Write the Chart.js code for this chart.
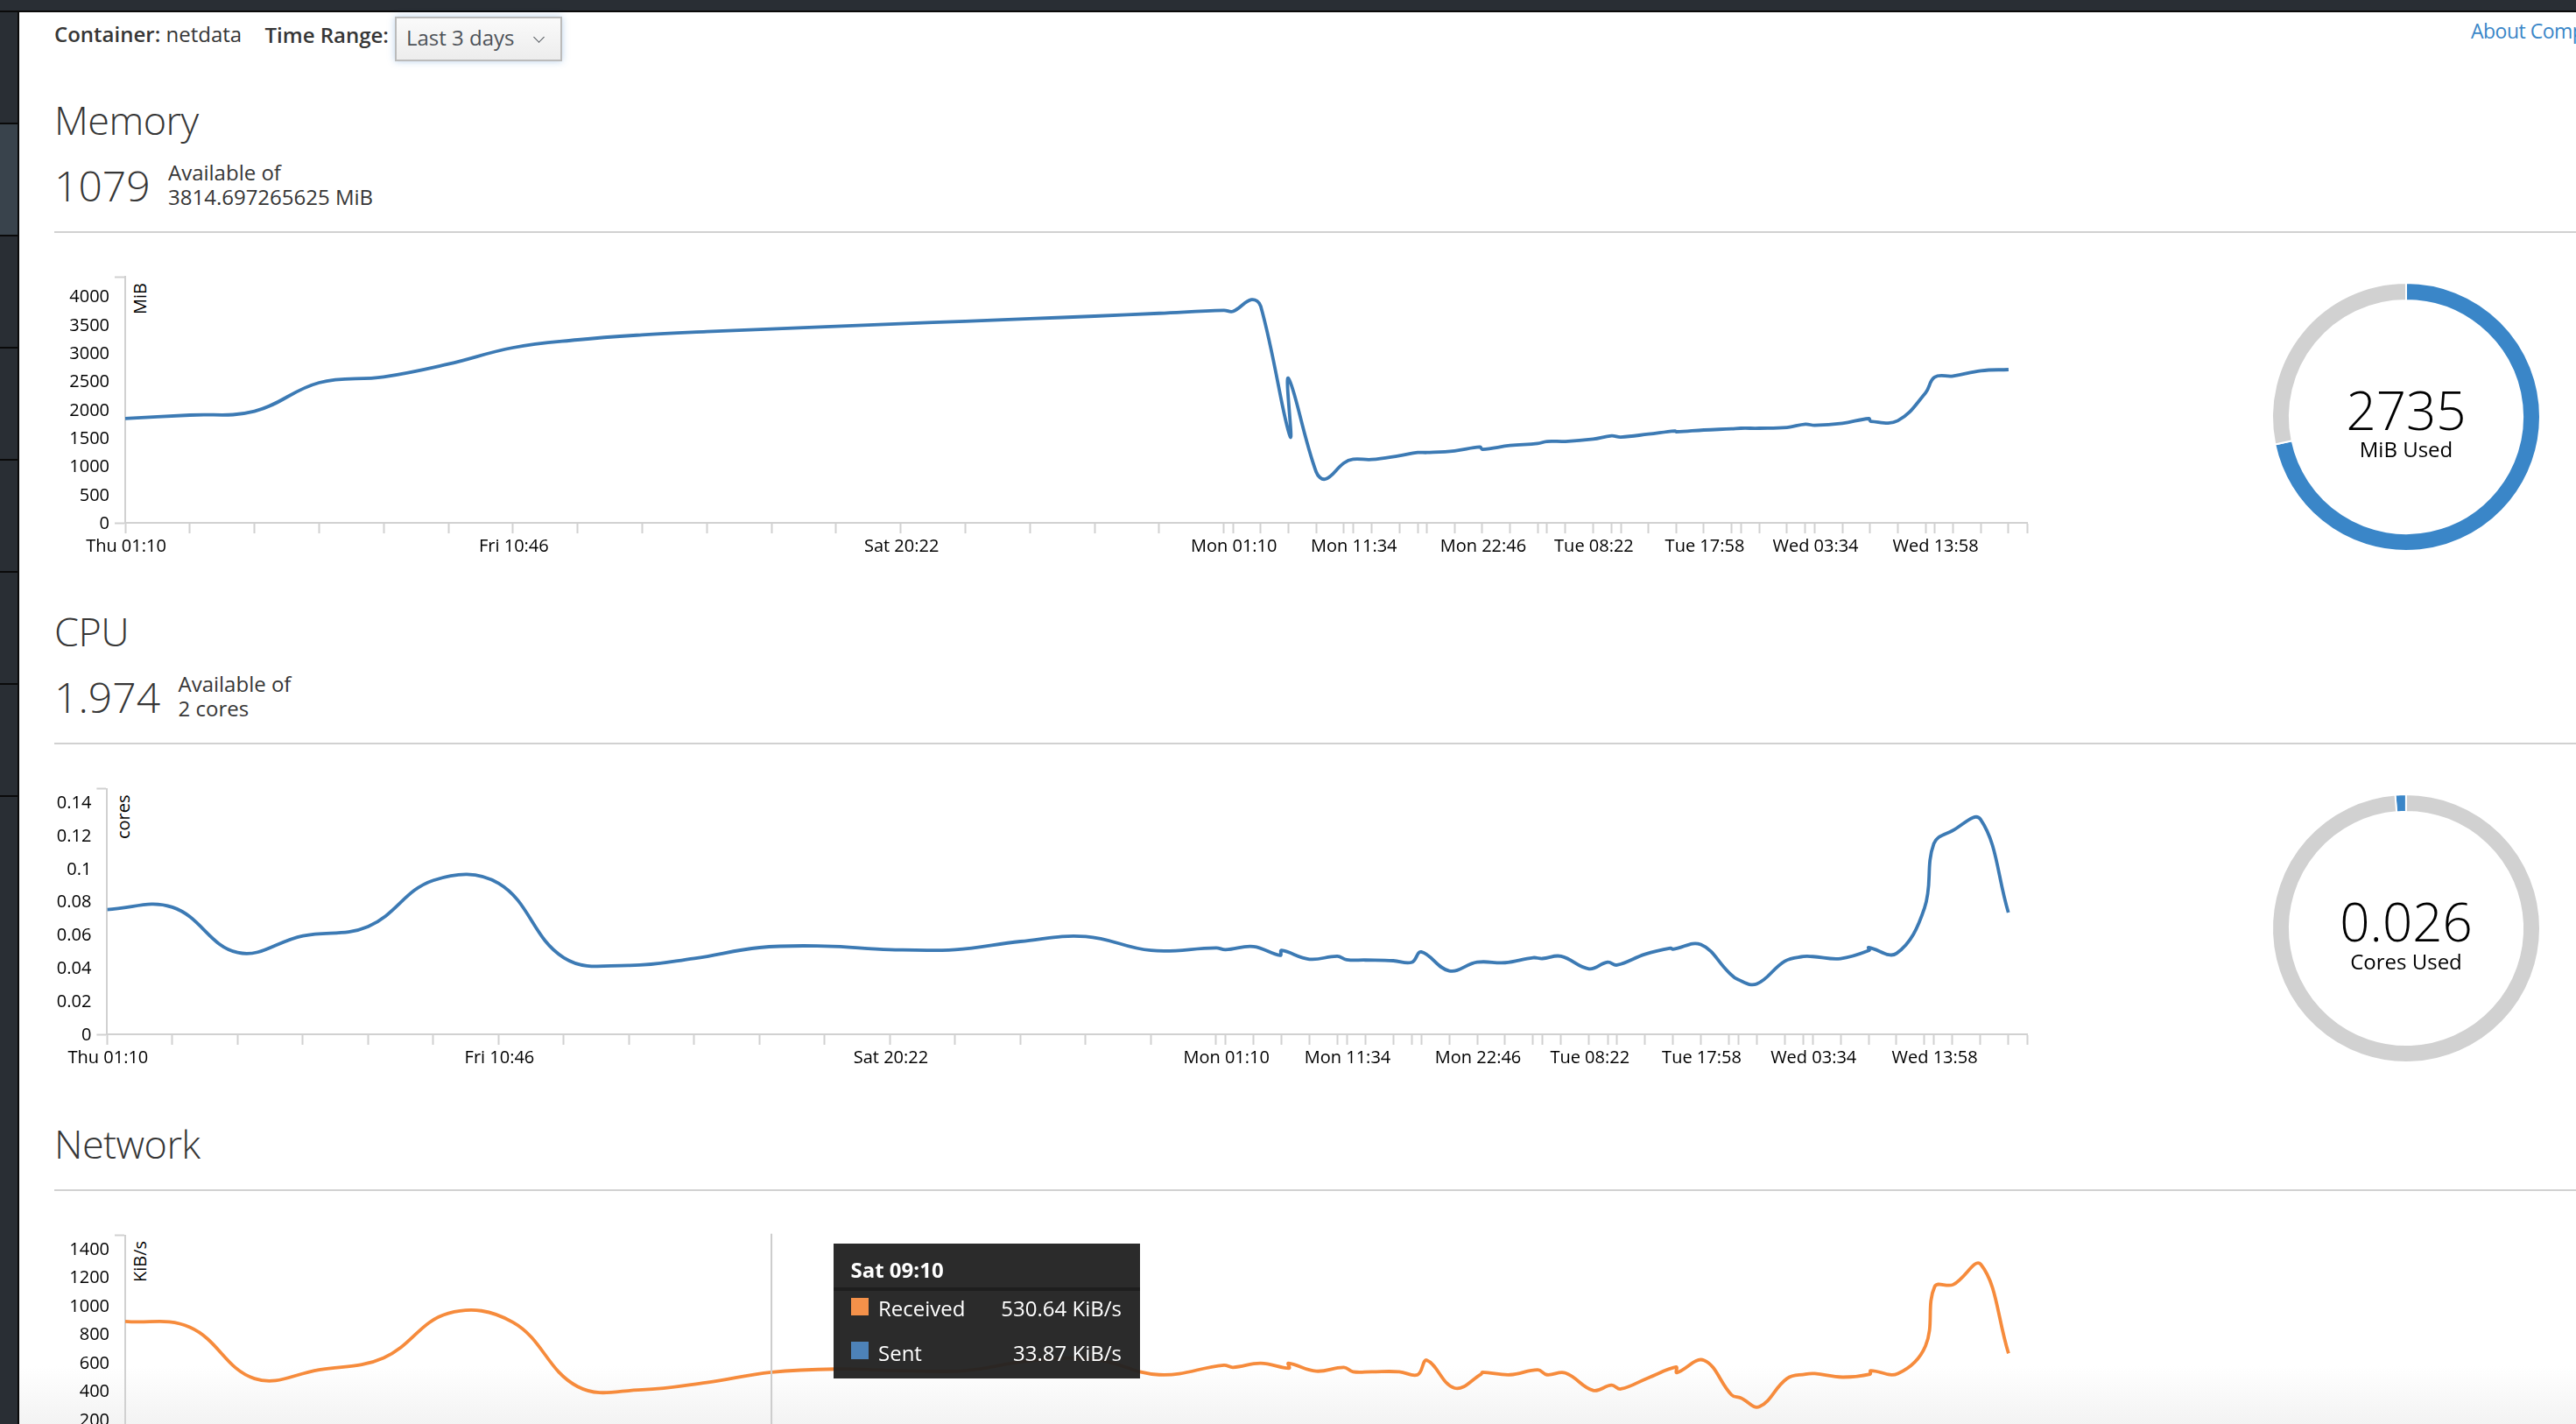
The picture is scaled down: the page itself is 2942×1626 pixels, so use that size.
<!DOCTYPE html>
<html>
<head>
<meta charset="utf-8">
<script src="https://cdn.jsdelivr.net/npm/chart.js@4"></script>
<style>
html,body{margin:0;padding:0;width:2942px;height:1626px;overflow:hidden;background:#fff;font-family:"Open Sans",sans-serif;color:#363636}
.a{position:absolute;white-space:nowrap;line-height:1}
.s24{font-size:24px}
.title{font-size:45px;font-weight:300;color:#363636;letter-spacing:-.55px}
.big{font-size:48px;font-weight:300;color:#363636}
.rule{position:absolute;left:62px;right:0;height:2px;background:#d1d1d1}
.dark{position:absolute;background:#292e34}
.blk{position:absolute;background:#0a0a0a}
.rot{position:absolute;font-size:20px;line-height:20px;color:#000;white-space:nowrap;transform-origin:0 0;transform:rotate(-90deg)}
.ctr{position:absolute;left:2548px;width:400px;text-align:center;line-height:1;color:#000}
canvas{position:absolute}
.tt{position:absolute;left:952px;top:1420px;width:350px;height:154px;background:rgba(34,34,34,.96);z-index:5}
.tt .a{color:#fff}
.sw{position:absolute;width:20px;height:20px;left:20px}
</style>
</head>
<body>
<!-- page chrome -->
<div class="dark" style="left:0;top:0;width:2942px;height:12px"></div>
<div class="blk" style="left:0;top:12px;width:2942px;height:2px"></div>
<div class="dark" style="left:0;top:14px;width:20px;height:1612px"></div>
<div class="blk" style="left:20px;top:14px;width:2px;height:1612px"></div>
<div style="position:absolute;left:0;top:142px;width:20px;height:126px;background:#39434c"></div>
<div class="blk" style="left:0;top:140px;width:20px;height:2px"></div>
<div class="blk" style="left:0;top:268px;width:20px;height:2px"></div>
<div class="blk" style="left:0;top:396px;width:20px;height:2px"></div>
<div class="blk" style="left:0;top:524px;width:20px;height:2px"></div>
<div class="blk" style="left:0;top:652px;width:20px;height:2px"></div>
<div class="blk" style="left:0;top:780px;width:20px;height:2px"></div>
<div class="blk" style="left:0;top:908px;width:20px;height:2px"></div>
<div style="position:absolute;left:22px;right:0;top:1560px;height:66px;background:linear-gradient(#fff,#f3f3f3)"></div>

<!-- toolbar -->
<div class="a s24" style="left:62px;top:26.7px"><b style="font-weight:600">Container:</b> netdata</div>
<div class="a s24" style="left:302.5px;top:28px;font-weight:600">Time Range:</div>
<div style="position:absolute;left:451px;top:19px;width:187px;height:47px;border:2px solid #bbb;background:linear-gradient(#fafafa,#ededed);box-shadow:0 0 8px rgba(60,130,200,.35)"></div>
<div class="a s24" style="left:464px;top:30.5px;color:#4d5258">Last 3 days</div>
<div style="position:absolute;left:611px;top:38px;width:8px;height:8px;border-right:1.5px solid #4d5258;border-bottom:1.5px solid #4d5258;transform:rotate(45deg)"></div>
<div class="a" style="left:2822px;top:23.5px;font-size:23px;letter-spacing:-.5px;color:#3a87c8">About Comp</div>

<!-- Memory header -->
<div class="a title" style="left:62px;top:114px">Memory</div>
<div class="a big" style="left:62px;top:188px">1079</div>
<div class="a s24" style="left:192px;top:184.7px">Available of</div>
<div class="a s24" style="left:192px;top:213.2px">3814.697265625 MiB</div>
<div class="rule" style="top:264px"></div>
<div class="rot" style="left:150px;top:359px">MiB</div>

<!-- CPU header -->
<div class="a title" style="left:62px;top:698px">CPU</div>
<div class="a big" style="left:62px;top:771.5px">1.974</div>
<div class="a s24" style="left:203.5px;top:768.7px">Available of</div>
<div class="a s24" style="left:203.5px;top:797.2px">2 cores</div>
<div class="rule" style="top:848px"></div>
<div class="rot" style="left:130.5px;top:958px">cores</div>

<!-- Network header -->
<div class="a title" style="left:62px;top:1282.5px">Network</div>
<div class="rule" style="top:1358px"></div>
<div class="rot" style="left:150px;top:1464px">KiB/s</div>

<canvas id="memLine" width="2340" height="340" style="left:0;top:300px"></canvas>
<canvas id="cpuLine" width="2340" height="340" style="left:0;top:884px"></canvas>
<canvas id="netLine" width="2340" height="300" style="left:0;top:1396px"></canvas>
<canvas id="memDonut" width="340" height="340" style="left:2578px;top:305.5px"></canvas>
<canvas id="cpuDonut" width="340" height="340" style="left:2578px;top:890px"></canvas>

<div class="ctr" style="top:438px;font-size:60px;font-weight:300">2735</div>
<div class="ctr" style="top:501px;font-size:24px">MiB Used</div>
<div class="ctr" style="top:1022px;font-size:60px;font-weight:300">0.026</div>
<div class="ctr" style="top:1085.5px;font-size:24px">Cores Used</div>

<!-- hover tooltip -->
<div class="tt">
  <div class="a s24" style="left:19.5px;top:18px;font-weight:700">Sat 09:10</div>
  <div style="position:absolute;left:0;top:50px;width:350px;height:4px;background:#1e1e1e"></div>
  <div class="sw" style="top:62.3px;background:#f4914a"></div>
  <div class="a s24" style="left:51px;top:62px">Received</div>
  <div class="a s24" style="right:21px;top:62px">530.64 KiB/s</div>
  <div class="sw" style="top:112px;background:#4d82b8"></div>
  <div class="a s24" style="left:51px;top:112.5px">Sent</div>
  <div class="a s24" style="right:21px;top:112.5px">33.87 KiB/s</div>
</div>

<script>
// x axis: hours since Thu 01:10
const tickHours = [0,5.6,11.2,16.8,22.4,28,33.6,39.2,44.8,50.4,56,61.6,67.2,72.8,78.4,84,89.6,95.2,96,98.4,100.8,103.2,105.6,106.4,108,110.4,112,112.8,115.2,117.6,120,122.4,123.2,124.8,127.2,128.8,129.6,132,134.4,136.8,139.2,140,141.6,144,145.6,146.4,148.8,151.2,153.6,156,156.8,158.4,160.8,163.2,164.8];
const labelHours = [0,33.6,67.2,96,106.4,117.6,127.2,136.8,146.4,156.8];
const labelTexts = ["Thu 01:10","Fri 10:46","Sat 20:22","Mon 01:10","Mon 11:34","Mon 22:46","Tue 08:22","Tue 17:58","Wed 03:34","Wed 13:58"];

const memHours  = [0,5.6,11.2,16.8,22.4,28,33.6,39.2,44.8,50.4,56,61.6,67.2,72.8,78.4,84,89.6,95.2,96,97.6,98.4,100.95,100.8,103.2,104,105.6,106.4,108,110.4,112,112.8,115.2,117.4,117.6,120,122.4,123.2,124.8,127.2,128.8,129.6,132,134.3,134.4,136.8,139.2,140,141.6,144,145.6,146.4,148.8,151.1,151.25,153.6,156,156.8,158.4,160.8,163.2];
const memValues = [1840,1900,1967,2471,2574,2800,3089,3228,3315,3372,3418,3465,3512,3555,3600,3645,3695,3748,3730,3935,3820,1519,2548,900,772,1055,1122,1117,1184,1240,1240,1270,1338,1297,1364,1400,1436,1436,1477,1534,1513,1565,1621,1606,1637,1658,1668,1668,1683,1740,1719,1755,1838,1791,1802,2290,2569,2589,2682,2703];
const memTicks = [0,500,1000,1500,2000,2500,3000,3500,4000];
const memTop = 4340;

const cpuHours  = [0,5.6,11.2,16.8,22.4,28,33.6,39.2,44.8,50.4,56,61.6,67.2,72.8,78.4,84,89.6,95.2,96,98.4,100.7,100.8,103.2,105.6,106.4,108,110.4,112,112.8,115.2,117.6,120,122.4,123.2,124.8,127.2,128.8,129.6,132,134.2,134.4,136.8,139.2,140,141.6,144,145.6,146.4,148.8,151.25,151.2,153.6,156,156.8,158.4,160.8,163.2];
const cpuValues = [0.0751,0.0765,0.0492,0.0593,0.0649,0.0927,0.0909,0.0461,0.0415,0.0457,0.0522,0.0531,0.051,0.051,0.0559,0.0589,0.0505,0.052,0.051,0.0528,0.0475,0.0505,0.0452,0.047,0.0449,0.0447,0.0443,0.0434,0.0496,0.0382,0.0434,0.0431,0.0461,0.0456,0.047,0.0394,0.0434,0.0417,0.0482,0.0519,0.0512,0.054,0.0373,0.0329,0.0303,0.044,0.0468,0.0468,0.0456,0.0505,0.0522,0.0487,0.076,0.1147,0.1226,0.1295,0.0733];
const cpuTicks = [0,0.02,0.04,0.06,0.08,0.1,0.12,0.14];
const cpuTop = 0.1478;

const netHours  = [0,5.6,11.2,16.8,22.4,28,33.6,39.2,44.8,50.4,56,61.6,67.2,72.8,78.4,84,89.6,95.2,96,98.4,100.85,100.8,103.2,105.6,106.4,108,110.4,112,112.8,115.2,117.5,117.6,120,122.4,123.2,124.8,127.2,128.8,129.6,132,134.4,134.45,136.8,139.2,140,141.6,144,145.6,146.4,148.8,151.2,151.25,153.6,156,156.8,158.4,160.8,163.2];
const netValues = [888,847,486,548,632,945,882,430,408,459,530.64,553,542,542,611,621,513,580,565,594,559,594,538,565,534,534,534,513,615,419,517,531,513,548,513,525,403,440,413,492,567,528,615,371,350,288,486,517,521,496,517,542,521,715,1133,1147,1289,663];
const netTicks = [0,200,400,600,800,1000,1200,1400];
const netTop = 1493;
const hoverHour = 56;

const memUsed = [2735,1079];
const cpuUsed = [0.026,1.974];

const AXIS = '#d1d1d1';
const FONT = {family:'"Open Sans"',size:20};

function lineChart(id,hours,values,yTicks,top,color,padTop,plugins){
  return new Chart(document.getElementById(id),{
    type:'line',
    data:{datasets:[{data:hours.map((h,i)=>({x:h,y:values[i]})),borderColor:color,borderWidth:3.8,pointRadius:0,tension:0.4,fill:false}]},
    options:{
      responsive:false,animation:false,
      layout:{padding:{top:padTop,right:25,left:0,bottom:0}},
      plugins:{legend:{display:false},tooltip:{enabled:false}},
      scales:{
        x:{type:'linear',min:0,max:164.8,
          afterBuildTicks(s){s.ticks=tickHours.map(v=>({value:v}));},
          afterFit(s){s.height=43;s.paddingLeft=0;s.paddingRight=0;},
          ticks:{autoSkip:false,maxRotation:0,minRotation:0,padding:3,labelOffset:1,color:'#000',font:FONT,
            callback(v){const i=labelHours.indexOf(v);return i<0?'':labelTexts[i];}},
          grid:{drawOnChartArea:false,tickLength:12,tickWidth:2,tickColor:AXIS},
          border:{color:AXIS,width:2}},
        y:{min:0,max:top,
          afterBuildTicks(s){s.ticks=yTicks.concat([top]).map(v=>({value:v}));},
          afterFit(s){s.width=id==='cpuLine'?122.4:143;s.paddingTop=0;s.paddingBottom=0;},
          ticks:{autoSkip:false,padding:6,labelOffset:1.5,color:'#000',font:FONT,
            callback(v){return v===top?'':String(v);}},
          grid:{drawOnChartArea:false,tickLength:12,tickWidth:2,
            tickColor(c){return (c.tick&&(c.tick.value===0||c.tick.value===top))?AXIS:'rgba(0,0,0,0)';}},
          border:{color:AXIS,width:2}}
      }
    },
    plugins:plugins||[]
  });
}

const hoverLine = {id:'hoverLine',afterDatasetsDraw(ch){
  const x=ch.scales.x.getPixelForValue(hoverHour),c=ch.ctx;
  c.save();c.strokeStyle='#cccccc';c.lineWidth=2;c.beginPath();
  c.moveTo(x,ch.chartArea.top-2);c.lineTo(x,ch.chartArea.bottom);c.stroke();c.restore();
}};

function donut(id,values,colors,rotation){
  return new Chart(document.getElementById(id),{
    type:'doughnut',
    data:{datasets:[{data:values,backgroundColor:colors,borderColor:'#fff',borderWidth:2}]},
    options:{responsive:false,animation:false,radius:153,cutout:'87%',rotation:rotation,
      plugins:{legend:{display:false},tooltip:{enabled:false}}}
  });
}

function draw(){
  lineChart('memLine',memHours,memValues,memTicks,memTop,'#3c7ab4',16);
  lineChart('cpuLine',cpuHours,cpuValues,cpuTicks,cpuTop,'#3c7ab4',16.7);
  lineChart('netLine',netHours,netValues,netTicks,netTop,'#f68b3c',14.7,[hoverLine]);
  donut('memDonut',memUsed,['#3a86c8','#d1d1d1'],0);
  donut('cpuDonut',cpuUsed,['#3a86c8','#d1d1d1'],-4.7);
}
draw();
</script>
</body>
</html>
